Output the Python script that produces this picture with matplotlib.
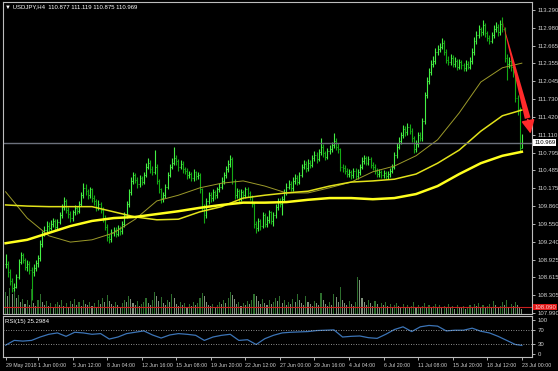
import matplotlib.pyplot as plt

plt.rcParams['font.family'] = ['Liberation Sans Narrow', 'Liberation Sans', 'DejaVu Sans']

# Datos: barras H4 USDJPY
closes = [108.85, 108.70, 108.55, 108.42, 108.45, 108.62, 108.88, 109.00, 108.92, 108.80,
          108.85, 108.74, 108.70, 108.78, 108.86, 108.95, 109.20, 109.38, 109.45, 109.52,
          109.48, 109.55, 109.60, 109.50, 109.58, 109.70, 109.85, 109.95, 109.80, 109.72,
          109.65, 109.75, 109.82, 109.78, 109.90, 110.05, 110.18, 110.12, 110.05, 110.15,
          110.00, 109.95, 109.85, 109.90, 109.80, 109.65, 109.50, 109.32, 109.28, 109.40,
          109.45, 109.38, 109.48, 109.42, 109.55, 109.70, 109.90, 110.10, 110.30, 110.40,
          110.32, 110.25, 110.35, 110.28, 110.40, 110.55, 110.62, 110.50, 110.45, 110.55,
          110.30, 110.15, 110.00, 110.05, 110.20, 110.40, 110.55, 110.62, 110.70, 110.65,
          110.55, 110.60, 110.50, 110.48, 110.40, 110.42, 110.35, 110.45, 110.38, 110.40,
          110.15, 109.85, 109.70, 109.95, 110.05, 110.00, 110.10, 110.05, 110.15, 110.20,
          110.30, 110.40, 110.50, 110.60, 110.68, 110.30, 110.05, 110.12, 110.00, 110.10,
          110.05, 110.15, 110.08, 110.02, 109.90, 109.55, 109.48, 109.60, 109.52, 109.70,
          109.55, 109.62, 109.75, 109.60, 109.70, 109.85, 109.95, 109.90, 109.98, 110.10,
          110.20, 110.25, 110.18, 110.30, 110.35, 110.28, 110.40, 110.55, 110.60, 110.52,
          110.62, 110.58, 110.70, 110.75, 110.68, 110.80, 110.90, 110.78, 110.72, 110.82,
          110.85, 110.92, 111.00, 110.90, 110.85, 110.55, 110.52, 110.48, 110.42, 110.45,
          110.40, 110.48, 110.38, 110.45, 110.55, 110.65, 110.70, 110.62, 110.68, 110.58,
          110.55, 110.48, 110.42, 110.45, 110.40, 110.44, 110.38, 110.42, 110.48, 110.55,
          110.75, 110.90, 111.00, 111.10, 111.20, 111.15, 111.25, 111.18, 111.05, 110.85,
          110.95, 111.10, 111.05, 111.35, 111.80, 112.05, 112.20, 112.35, 112.40, 112.55,
          112.60, 112.65, 112.72, 112.55, 112.42, 112.38, 112.45, 112.35, 112.40, 112.30,
          112.38, 112.32, 112.28, 112.35, 112.30, 112.40, 112.55, 112.75, 112.85, 112.95,
          112.90, 113.02, 112.88, 112.80, 112.75, 112.85, 112.95, 113.00, 112.90, 113.05,
          112.95, 112.45, 112.35, 112.40, 112.30, 112.20, 111.75, 111.55, 110.877, 110.969]
highs = [109.02, 108.90, 108.76, 108.60, 108.52, 108.68, 108.94, 109.06, 109.04, 108.96,
         108.92, 108.90, 108.80, 108.84, 108.92, 109.00, 109.26, 109.42, 109.52, 109.60,
         109.58, 109.62, 109.66, 109.64, 109.64, 109.76, 109.90, 110.02, 109.98, 109.84,
         109.78, 109.80, 109.88, 109.86, 109.95, 110.10, 110.26, 110.24, 110.16, 110.20,
         110.18, 110.06, 109.99, 109.96, 109.94, 109.84, 109.70, 109.55, 109.38, 109.46,
         109.50, 109.50, 109.53, 109.52, 109.60, 109.75, 109.95, 110.15, 110.36, 110.46,
         110.44, 110.36, 110.40, 110.38, 110.46, 110.62, 110.70, 110.66, 110.56, 110.84,
         110.60, 110.34, 110.18, 110.10, 110.25, 110.45, 110.60, 110.70, 110.90, 110.76,
         110.68, 110.66, 110.64, 110.55, 110.52, 110.48, 110.46, 110.50, 110.48, 110.46,
         110.44, 110.18, 109.90, 110.00, 110.10, 110.10, 110.15, 110.14, 110.20, 110.26,
         110.36, 110.46, 110.56, 110.66, 110.76, 110.72, 110.34, 110.18, 110.16, 110.15,
         110.14, 110.20, 110.19, 110.12, 110.06, 109.94, 109.60, 109.66, 109.64, 109.75,
         109.74, 109.68, 109.80, 109.78, 109.76, 109.90, 110.00, 110.00, 110.04, 110.15,
         110.26, 110.32, 110.30, 110.36, 110.42, 110.40, 110.46, 110.60, 110.67, 110.64,
         110.68, 110.67, 110.76, 110.82, 110.80, 110.86, 111.05, 110.94, 110.82, 110.88,
         110.92, 110.98, 111.14, 111.05, 110.96, 110.88, 110.60, 110.57, 110.52, 110.50,
         110.49, 110.53, 110.52, 110.50, 110.60, 110.72, 110.76, 110.74, 110.74, 110.71,
         110.63, 110.59, 110.52, 110.50, 110.49, 110.49, 110.48, 110.47, 110.53, 110.60,
         110.80, 110.96, 111.06, 111.16, 111.28, 111.26, 111.31, 111.30, 111.22, 111.08,
         111.02, 111.16, 111.15, 111.40, 111.86, 112.12, 112.28, 112.42, 112.48, 112.62,
         112.68, 112.72, 112.80, 112.76, 112.60, 112.48, 112.52, 112.50, 112.46, 112.44,
         112.44, 112.42, 112.37, 112.41, 112.40, 112.46, 112.62, 112.82, 112.92, 113.02,
         113.00, 113.11, 113.06, 112.93, 112.86, 112.90, 113.02, 113.08, 113.05, 113.12,
         113.17, 113.00, 112.52, 112.46, 112.45, 112.36, 112.24, 111.80, 111.60, 111.119]
lows = [108.78, 108.62, 108.48, 108.36, 108.37, 108.42, 108.58, 108.84, 108.86, 108.74,
        108.72, 108.68, 108.22, 108.64, 108.72, 108.80, 108.90, 109.15, 109.33, 109.40,
        109.42, 109.44, 109.50, 109.44, 109.46, 109.54, 109.66, 109.80, 109.74, 109.66,
        109.58, 109.60, 109.70, 109.72, 109.74, 109.86, 110.00, 110.06, 109.98, 110.00,
        109.94, 109.88, 109.78, 109.80, 109.74, 109.58, 109.44, 109.25, 109.21, 109.24,
        109.34, 109.32, 109.34, 109.36, 109.38, 109.50, 109.66, 109.85, 110.05, 110.25,
        110.26, 110.18, 110.20, 110.22, 110.24, 110.36, 110.50, 110.44, 110.40, 110.42,
        110.24, 110.08, 109.91, 109.94, 110.00, 110.16, 110.36, 110.50, 110.58, 110.58,
        110.48, 110.50, 110.44, 110.42, 110.34, 110.35, 110.30, 110.30, 110.32, 110.33,
        110.08, 109.78, 109.56, 109.66, 109.90, 109.94, 109.95, 109.99, 110.00, 110.10,
        110.15, 110.25, 110.35, 110.45, 110.55, 110.24, 109.98, 110.00, 109.94, 109.95,
        109.99, 110.00, 110.02, 109.96, 109.84, 109.48, 109.39, 109.43, 109.45, 109.47,
        109.49, 109.50, 109.57, 109.54, 109.52, 109.65, 109.80, 109.84, 109.70, 109.93,
        110.05, 110.15, 110.12, 110.13, 110.25, 110.22, 110.24, 110.36, 110.50, 110.46,
        110.47, 110.52, 110.54, 110.65, 110.62, 110.64, 110.75, 110.72, 110.66, 110.68,
        110.77, 110.80, 110.88, 110.84, 110.78, 110.48, 110.46, 110.42, 110.36, 110.37,
        110.34, 110.35, 110.33, 110.34, 110.40, 110.50, 110.60, 110.57, 110.58, 110.52,
        110.49, 110.42, 110.36, 110.37, 110.35, 110.35, 110.33, 110.34, 110.37, 110.43,
        110.50, 110.70, 110.85, 110.95, 111.05, 111.09, 111.10, 111.12, 110.98, 110.78,
        110.80, 110.90, 110.99, 111.00, 111.30, 111.75, 112.00, 112.15, 112.30, 112.35,
        112.50, 112.55, 112.60, 112.50, 112.36, 112.32, 112.33, 112.29, 112.30, 112.24,
        112.25, 112.26, 112.22, 112.23, 112.25, 112.26, 112.35, 112.50, 112.70, 112.80,
        112.84, 112.86, 112.82, 112.74, 112.70, 112.71, 112.80, 112.90, 112.84, 112.86,
        112.90, 112.38, 112.07, 112.28, 112.22, 112.12, 111.68, 111.45, 110.82, 110.875]
volumes = [22, 18, 26, 20, 24, 16, 19, 12, 15, 10, 14, 9,
           25, 11, 8, 14, 20, 12, 9, 13, 8, 11, 7, 10,
           12, 9, 14, 8, 11, 7, 13, 10, 15, 9, 12, 8,
           14, 10, 9, 12, 8, 11, 7, 14, 10, 16, 12, 19,
           13, 10, 8, 12, 9, 7, 11, 14, 12, 18, 15, 11,
           9, 13, 8, 10, 12, 16, 11, 9, 14, 22, 18, 13,
           17, 11, 9, 14, 12, 20, 16, 10, 8, 12, 9, 11,
           7, 10, 8, 12, 9, 11, 16, 21, 18, 12, 9, 8,
           10, 7, 9, 12, 10, 14, 11, 16, 22, 19, 15, 10,
           12, 8, 11, 9, 13, 10, 14, 20, 18, 13, 10, 15,
           11, 9, 14, 10, 12, 16, 13, 18, 11, 14, 9, 12,
           10, 15, 12, 20, 14, 11, 9, 18, 12, 10, 8, 13,
           11, 9, 21, 14, 10, 8, 12, 9, 20, 17, 12, 27,
           14, 11, 9, 13, 10, 8, 12, 37, 34, 16, 12, 9,
           14, 11, 8, 13, 10, 7, 11, 9, 12, 8, 10, 7,
           9, 11, 8, 6, 10, 7, 9, 6, 8, 12, 7, 9,
           6, 8, 11, 7, 9, 6, 8, 10, 7, 9, 6, 8,
           7, 10, 6, 8, 5, 9, 7, 6, 8, 5, 7, 9,
           6, 10, 8, 11, 7, 9, 6, 8, 10, 7, 13, 9,
           6, 8, 12, 9, 14, 7, 10, 8, 12, 9, 7, 5]

# Medias móviles (leídas cada 10 barras)
ma_bars = list(range(0, 240, 10)) + [239]
ma_fast = [110.11, 109.65, 109.34, 109.23, 109.27, 109.39, 109.63, 109.95, 110.05, 110.18,
           110.26, 110.30, 110.21, 110.09, 110.09, 110.18, 110.28, 110.46, 110.56, 110.74,
           111.02, 111.49, 112.03, 112.28, 112.36]
ma_mid = [109.88, 109.86, 109.85, 109.85, 109.85, 109.76, 109.67, 109.62, 109.63, 109.76,
          109.85, 110.00, 110.05, 110.09, 110.12, 110.21, 110.28, 110.30, 110.33, 110.42,
          110.61, 110.84, 111.17, 111.44, 111.54]
ma_slow = [109.21, 109.27, 109.39, 109.51, 109.60, 109.65, 109.67, 109.72, 109.77, 109.83,
           109.88, 109.92, 109.92, 109.93, 109.97, 110.00, 110.00, 109.98, 110.00, 110.07,
           110.21, 110.42, 110.61, 110.74, 110.81]

# RSI(15) leído cada 4 barras
rsi_bars = list(range(0, 240, 4)) + [239]
rsi_vals = [26, 40, 38, 40, 50, 58, 62, 52, 64, 62, 58, 60, 44, 50, 60, 64, 68, 56, 47, 56,
            60, 58, 55, 40, 50, 55, 58, 40, 42, 28, 45, 55, 62, 64, 65, 66, 69, 70, 71, 50,
            52, 53, 48, 46, 58, 72, 80, 66, 80, 84, 82, 68, 70, 70, 76, 67, 62, 52, 40, 28,
            25.3]

price_ticks = [113.290, 112.980, 112.665, 112.355, 112.045, 111.730, 111.420, 111.110,
               110.795, 110.485, 110.175, 109.860, 109.550, 109.240, 108.925, 108.615,
               108.305, 107.990]
date_bars = [0] + [15 + 16 * k for k in range(15)]
date_labels = ['29 May 2018', '1 Jun 00:00', '5 Jun 12:00', '8 Jun 04:00', '12 Jun 16:00',
               '15 Jun 08:00', '19 Jun 20:00', '22 Jun 12:00', '27 Jun 00:00', '29 Jun 16:00',
               '4 Jul 04:00', '6 Jul 20:00', '11 Jul 08:00', '15 Jul 20:00', '18 Jul 12:00',
               '23 Jul 00:00']
bid = 110.969
red_level = 108.090

n = len(closes)
bars = list(range(n))
opens = [closes[0]] + closes[:-1]
opens[-1] = 110.877

fg = '#d0d0d0'
fs = 4.3
fig = plt.figure(figsize=(5.58, 3.71), dpi=100, facecolor='black')
rect_main = [3 / 558, 1 - 314 / 371, 529 / 558, 312 / 371]
ax_v = fig.add_axes(rect_main, facecolor='black')
ax = fig.add_axes(rect_main, facecolor='none', sharex=ax_v)
ax_r = fig.add_axes([3 / 558, 1 - 357 / 371, 529 / 558, 41 / 371], facecolor='black', sharex=ax_v)

# volumenes
vcol = ['#2d6e2d' if i == 0 or volumes[i] >= volumes[i - 1] else '#7e907a' for i in bars]
ax_v.bar(bars, volumes, width=0.5, color=vcol, linewidth=0)
ax_v.set_ylim(0, 312)
ax_v.axis('off')

# barras de precio
up = [c >= o for o, c in zip(opens, closes)]
bcol = ['#44f044' if u else '#14aa14' for u in up]
ax.vlines(bars, lows, highs, colors=bcol, linewidth=0.8)
ax.hlines(closes, [b for b in bars], [b + 0.45 for b in bars], colors=bcol, linewidth=0.6)
ax.hlines(opens, [b - 0.45 for b in bars], [b for b in bars], colors=bcol, linewidth=0.6)

ax.plot(ma_bars, ma_fast, color='#9c9a2a', linewidth=0.7)
ax.plot(ma_bars, ma_mid, color='#e2e21a', linewidth=1.1)
ax.plot(ma_bars, ma_slow, color='#ffff1e', linewidth=1.8)

ax.axhline(bid, color='#6c717c', linewidth=1.0)
ax.axhline(red_level, color='#c81e1e', linewidth=0.8)

ax.annotate('', xy=(229.5, 113.17), xytext=(242.0, 111.35),
            arrowprops=dict(arrowstyle='wedge,tail_width=0.6', color='#ff2a2a', lw=0,
                            mutation_scale=7), annotation_clip=False)
ax.annotate('', xy=(243.3, 111.08), xytext=(241.5, 111.42),
            arrowprops=dict(arrowstyle='-|>,head_length=0.8,head_width=0.4', color='#ff2a2a',
                            lw=1.2, mutation_scale=10), annotation_clip=False)

ax.set_xlim(-1.2, 243.7)
ax.set_ylim(107.972, 113.43)
ax.yaxis.tick_right()
ax.set_yticks(price_ticks)
ax.set_yticklabels(['%.3f' % t for t in price_ticks])
ax.tick_params(axis='y', colors=fg, labelsize=fs, length=2.5, width=0.6, pad=1.5)
ax.tick_params(axis='x', bottom=False, labelbottom=False)
for s in ax.spines.values():
    s.set_color('#bdbdbd')
    s.set_linewidth(0.8)

ytr = ax.get_yaxis_transform()
ax.text(1.004, bid, '110.969', transform=ytr, ha='left', va='center', fontsize=fs,
        color='black', bbox=dict(facecolor='white', edgecolor='none', pad=0.5))
ax.text(1.004, red_level, '108.090', transform=ytr, ha='left', va='center', fontsize=fs,
        color='#ffd0d0', bbox=dict(facecolor='#e01818', edgecolor='none', pad=0.5))
ax.text(0.004, 0.985, '\u25bc USDJPY,H4  110.877 111.119 110.875 110.969', transform=ax.transAxes,
        ha='left', va='center', fontsize=fs, color='white')

# RSI
ax_r.plot(rsi_bars, rsi_vals, color='#3c74b6', linewidth=0.9)
ax_r.axhline(70, color='#bbbbbb', linewidth=0.6, linestyle=(0, (1, 2)))
ax_r.axhline(30, color='#bbbbbb', linewidth=0.6, linestyle=(0, (1, 2)))
ax_r.set_ylim(-8.8, 111.8)
ax_r.yaxis.tick_right()
ax_r.set_yticks([0, 30, 70, 100])
ax_r.tick_params(axis='y', colors=fg, labelsize=fs, length=2.5, width=0.6, pad=1.5)
ax_r.set_xticks(date_bars)
ax_r.set_xticklabels(date_labels, ha='left')
ax_r.tick_params(axis='x', colors=fg, labelsize=3.8, length=2.5, width=0.6, pad=1.5)
for s in ax_r.spines.values():
    s.set_color('#bdbdbd')
    s.set_linewidth(0.8)
ax_r.text(0.004, 0.87, 'RSI(15) 25.2984', transform=ax_r.transAxes, ha='left', va='center',
          fontsize=fs, color='white')

fig.savefig('out.png', dpi=100, facecolor='black')
